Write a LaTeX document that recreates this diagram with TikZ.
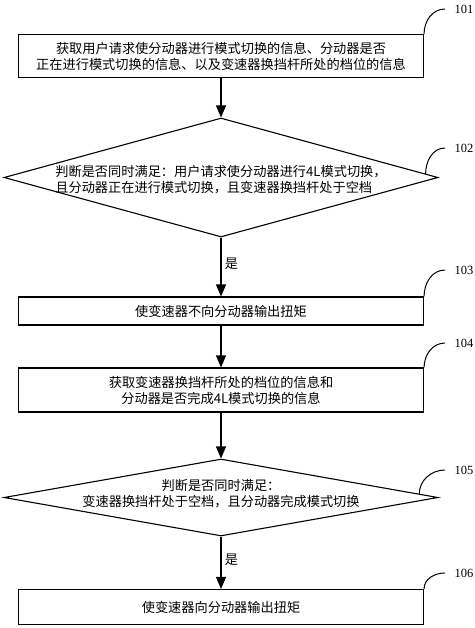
\documentclass[tikz,border=0pt]{standalone}
\usepackage{fontspec}
\setmainfont{Liberation Serif}
\newfontfamily\cjk{Noto Sans CJK SC}
\usetikzlibrary{shapes.geometric, arrows.meta}

\begin{document}
\begin{tikzpicture}[line width=1.1pt,
	stepbox/.style={rectangle, draw, minimum width=405pt, align=center, font=\cjk\fontsize{13.2}{16}\selectfont},
	decision/.style={diamond, draw, minimum width=434pt, inner sep=0pt},
	cond text/.style={font=\cjk\fontsize{13.2}{16}\selectfont},
	ref label/.style={anchor=west, inner xsep=9pt, inner ysep=0pt, font=\fontsize{12.5}{14}\selectfont},
	flow/.style={-{Triangle[length=12pt, width=10pt]}},
	ref line/.style={line width=1pt}]

	\useasboundingbox (0,0) rectangle (474pt,-628pt);

	\node[stepbox, minimum height=43pt] (s1) at (221pt,-56pt) {获取用户请求使分动器进行模式切换的信息、分动器是否\\正在进行模式切换的信息、以及变速器换挡杆所处的档位的信息};
	\node[decision, minimum height=119pt, node distance=121.5pt] (d1) [below of=s1] {};
	\node[cond text, align=left] (t1) at ([yshift=-2pt]d1.center) {判断是否同时满足：用户请求使分动器进行4L模式切换，\\且分动器正在进行模式切换，且变速器换挡杆处于空档};
	\node[stepbox, minimum height=28pt, node distance=133.5pt] (s3) [below of=d1] {使变速器不向分动器输出扭矩};
	\node[stepbox, minimum height=44pt, node distance=79pt] (s4) [below of=s3] {获取变速器换挡杆所处的档位的信息和\\分动器是否完成4L模式切换的信息};
	\node[decision, minimum height=77pt, node distance=107.5pt] (d2) [below of=s4] {};
	\node[cond text, align=center] (t2) at ([yshift=4pt]d2.center) {判断是否同时满足：\\变速器换挡杆处于空档，且分动器完成模式切换};
	\node[stepbox, minimum height=35pt, node distance=109.5pt] (s6) [below of=d2] {使变速器向分动器输出扭矩};

	% step numbers
	\node[ref label] (r101) at (445pt,-9pt) {101};
	\node[ref label] (r102) at (445pt,-148pt) {102};
	\node[ref label] (r103) at (445pt,-270pt) {103};
	\node[ref label] (r104) at (445pt,-343pt) {104};
	\node[ref label] (r105) at (445pt,-470pt) {105};
	\node[ref label] (r106) at (445pt,-573pt) {106};

	\draw[ref line] (s1.north east) to[out=90, in=180] (r101.west);
	\draw[ref line] (d1.1) to[out=90, in=180] (r102.west);
	\draw[ref line] (s3.north east) to[out=90, in=180] (r103.west);
	\draw[ref line] (s4.north east) to[out=90, in=180] (r104.west);
	\draw[ref line] (d2.1) to[out=90, in=180] (r105.west);
	\draw[ref line] (s6.north east) to[out=90, in=180] (r106.west);

	% flow
	\draw[flow] (s1) -- (d1);
	\draw[flow] (d1) -- node[right, pos=0.45, cond text] {是} (s3);
	\draw[flow] (s3) -- (s4);
	\draw[flow] (s4) -- (d2);
	\draw[flow] (d2) -- node[right, pos=0.45, cond text] {是} (s6);

\end{tikzpicture}
\end{document}
